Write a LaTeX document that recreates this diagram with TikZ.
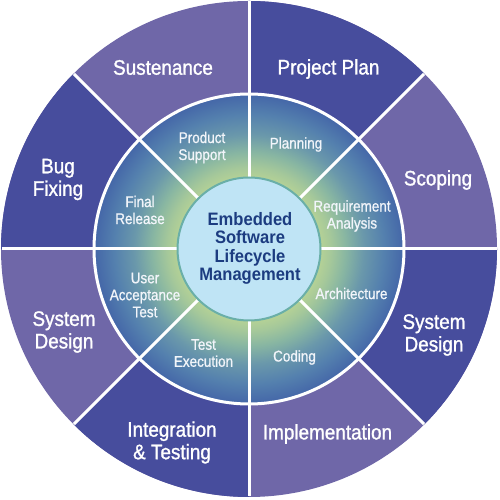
\documentclass[tikz,border=0pt]{standalone}
\usepackage{fontspec}
\setmainfont{Liberation Sans}
\newfontfamily\outerfont{Liberation Sans}[FakeStretch=0.90,FakeBold=1.2]
\newfontfamily\innerfont{Liberation Sans}[FakeStretch=0.87,FakeBold=0.9]
\newfontfamily\centerfont{Liberation Sans}[FakeStretch=0.92]
\definecolor{darkseg}{HTML}{474D9D}
\definecolor{lightseg}{HTML}{6F67A8}
\definecolor{ringA}{HTML}{B4D196}
\definecolor{ringB}{HTML}{A5C89A}
\definecolor{ringC}{HTML}{88B6A2}
\definecolor{ringD}{HTML}{6A98AB}
\definecolor{ringE}{HTML}{5480AE}
\definecolor{ringF}{HTML}{4466A8}
\definecolor{hubfill}{HTML}{BFE4F5}
\definecolor{hubrim}{HTML}{6AAFA8}
\definecolor{navytext}{HTML}{1C3C80}
\definecolor{innertext}{HTML}{F2F5FA}
\pgfdeclareradialshading{ringshade}{\pgfpointorigin}{color(0bp)=(ringA); color(11.6bp)=(ringA); color(13.2bp)=(ringB); color(15.6bp)=(ringC); color(18.5bp)=(ringD); color(21.8bp)=(ringE); color(25bp)=(ringF); color(50bp)=(ringF)}
\tikzset{
  divider/.style={white, line width=3pt},
  outerlbl/.style={text=white, inner sep=0pt, align=center, font=\outerfont\fontsize{21}{22.5}\selectfont},
  innerlbl/.style={text=innertext, inner sep=0pt, align=center, font=\innerfont\fontsize{15.5}{17}\selectfont},
  centerlbl/.style={text=navytext, inner sep=0pt, align=center, font=\centerfont\bfseries\fontsize{18}{18.5}\selectfont}
}
\begin{document}
\begin{tikzpicture}[x=1pt,y=1pt]
\useasboundingbox (0,0) rectangle (500,500);
\coordinate (O) at (249,251);
% outer ring
\fill[lightseg] (O) circle (248);
\foreach \a in {45,135,225,315}
  \fill[darkseg] (O) -- ++(\a:248) arc[start angle=\a, delta angle=45, radius=248] -- cycle;
% inner ring
\shade[shading=ringshade] (O) circle (155);
% dividers
\foreach \a in {0,45,...,315}
  \draw[divider] (O) -- ++(\a:247.5);
\draw[divider] (O) circle (155);
% hub
\fill[hubfill] (O) circle (71);
\draw[hubrim, line width=2pt] (O) circle (71.5);
% outer labels
\node[outerlbl] (sust) at (163,432.5) {Sustenance};
\node[outerlbl] (plan) at (328.5,431) {Project Plan};
\node[outerlbl] (scop) at (438,320) {Scoping};
\node[outerlbl] (sdr) at (434,165) {System\\Design};
\node[outerlbl] (impl) at (327.5,66) {Implementation};
\node[outerlbl] (intg) at (172,57.5) {Integration\\\& Testing};
\node[outerlbl] (sdl) at (64,168) {System\\Design};
\node[outerlbl] (bug) at (58,320.5) {Bug\\Fixing};
% inner labels
\node[innerlbl] (prod) at (202,352.5) {Product\\Support};
\node[innerlbl] (plng) at (296,355.5) {Planning};
\node[innerlbl] (req) at (352,284) {Requirement\\Analysis};
\node[innerlbl] (arch) at (351.5,206.5) {Architecture};
\node[innerlbl] (cod) at (294.5,142.5) {Coding};
\node[innerlbl] (texe) at (203.5,147) {Test\\Execution};
\node[innerlbl] (uat) at (145,205) {User\\Acceptance\\Test};
\node[innerlbl] (fin) at (140,290) {Final\\Release};
% hub label
\node[centerlbl] (hub) at (250,251.5) {Embedded\\Software\\Lifecycle\\Management};
\end{tikzpicture}
\end{document}
